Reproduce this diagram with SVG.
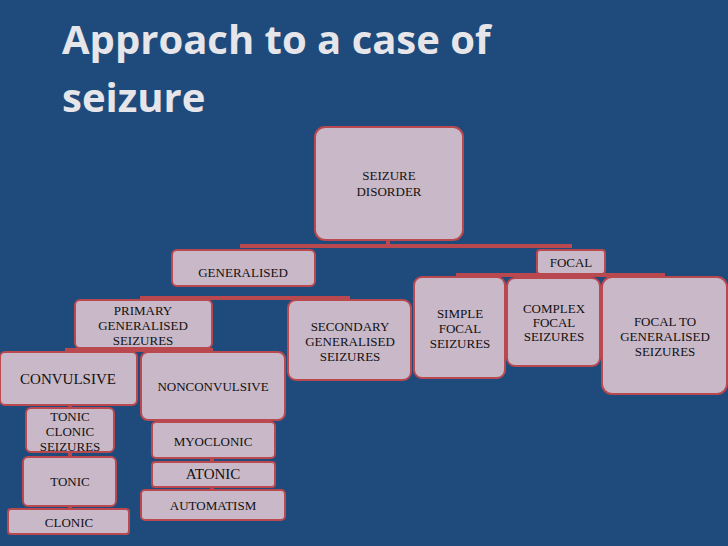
<svg xmlns="http://www.w3.org/2000/svg" width="728" height="546" viewBox="0 0 728 546">
<style>
.b{fill:#c9b8c8;stroke:#b9484f;stroke-width:2}
.t{font-family:"Liberation Serif",serif;font-size:13px;fill:#111;text-anchor:middle}
.c{stroke:#b9484f;stroke-width:4;fill:none}
.h{font-family:"Open Sans",sans-serif;font-weight:bold;font-size:40px;fill:#e6e6ea}
</style>
<rect width="728" height="546" fill="#1f4a7c"/>
<text class="h" x="62" y="54">Approach to a case of</text>
<text class="h" x="62" y="112">seizure</text>
<g id="connectors">
<path class="c" d="M388 240V246M240 246H572M140 298H350M456 275H665M65 350H213"/>
<path class="c" d="M70 405V408M70 452V457M70 506V509M212 420V422M212 458V462M212 487V490" stroke-width="2"/>
</g>
<g id="n1"><rect class="b" x="315" y="127" width="148" height="113" rx="10"/><text class="t" x="389" y="180">SEIZURE</text><text class="t" x="389" y="196">DISORDER</text></g>
<g id="n2"><rect class="b" x="172" y="250" width="143" height="36" rx="5"/><text class="t" x="243" y="277">GENERALISED</text></g>
<g id="n3"><rect class="b" x="537" y="250" width="68" height="24" rx="3"/><text class="t" x="571" y="267">FOCAL</text></g>
<g id="n4"><rect class="b" x="75" y="300" width="137" height="48" rx="5"/><text class="t" x="143" y="315">PRIMARY</text><text class="t" x="143" y="330">GENERALISED</text><text class="t" x="143" y="345">SEIZURES</text></g>
<g id="n5"><rect class="b" x="288" y="300" width="123" height="80" rx="8"/><text class="t" x="350" y="331">SECONDARY</text><text class="t" x="350" y="346">GENERALISED</text><text class="t" x="350" y="361">SEIZURES</text></g>
<g id="n6"><rect class="b" x="414" y="277" width="91" height="101" rx="8"/><text class="t" x="460" y="318">SIMPLE</text><text class="t" x="460" y="333">FOCAL</text><text class="t" x="460" y="348">SEIZURES</text></g>
<g id="n7"><rect class="b" x="507" y="278" width="93" height="88" rx="8"/><text class="t" x="554" y="313">COMPLEX</text><text class="t" x="554" y="327">FOCAL</text><text class="t" x="554" y="341">SEIZURES</text></g>
<g id="n8"><rect class="b" x="602" y="277" width="125" height="117" rx="10"/><text class="t" x="665" y="326">FOCAL TO</text><text class="t" x="665" y="341">GENERALISED</text><text class="t" x="665" y="356">SEIZURES</text></g>
<g id="n9"><rect class="b" x="0" y="352" width="137" height="53" rx="5"/><text class="t" x="68" y="384" style="font-size:15px">CONVULSIVE</text></g>
<g id="n10"><rect class="b" x="141" y="352" width="144" height="68" rx="7"/><text class="t" x="213" y="391">NONCONVULSIVE</text></g>
<g id="n11"><rect class="b" x="26" y="408" width="88" height="44" rx="5"/><text class="t" x="70" y="421">TONIC</text><text class="t" x="70" y="436">CLONIC</text><text class="t" x="70" y="451">SEIZURES</text></g>
<g id="n12"><rect class="b" x="23" y="457" width="93" height="49" rx="5"/><text class="t" x="70" y="486">TONIC</text></g>
<g id="n13"><rect class="b" x="8" y="509" width="121" height="25" rx="3"/><text class="t" x="69" y="527">CLONIC</text></g>
<g id="n14"><rect class="b" x="152" y="422" width="123" height="36" rx="4"/><text class="t" x="213" y="446">MYOCLONIC</text></g>
<g id="n15"><rect class="b" x="152" y="462" width="123" height="25" rx="3"/><text class="t" x="213" y="479" style="font-size:15px">ATONIC</text></g>
<g id="n16"><rect class="b" x="141" y="490" width="144" height="30" rx="4"/><text class="t" x="213" y="510">AUTOMATISM</text></g>
</svg>
